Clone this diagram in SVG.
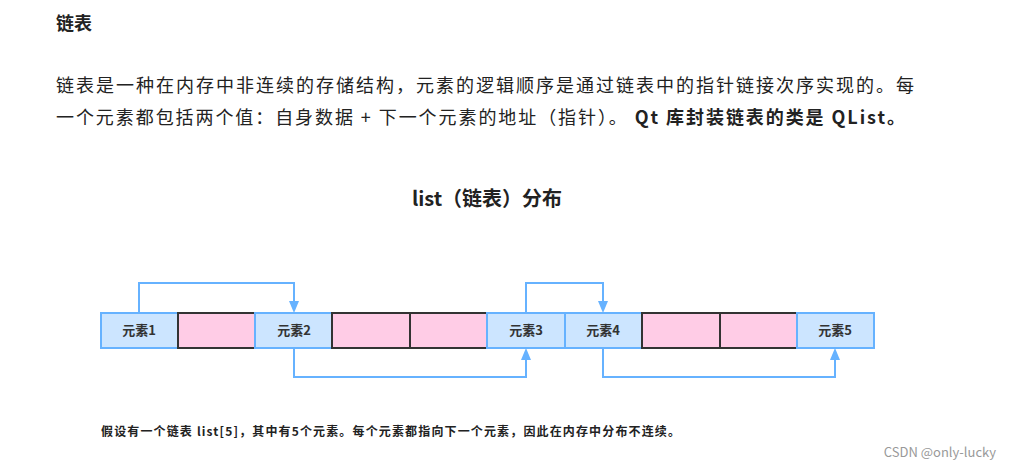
<svg xmlns="http://www.w3.org/2000/svg" width="1011" height="469" viewBox="0 0 1011 469">
<style>
text{font-family:"Noto Sans CJK SC","Liberation Sans",sans-serif;fill:#222}
.b{fill:#cce5ff;stroke:#66b2ff;stroke-width:2}
.p{fill:#ffcce6;stroke:#333;stroke-width:2}
.l{font-size:13px;font-weight:bold;fill:#333;text-anchor:middle}
.c{fill:none;stroke:#66b2ff;stroke-width:2}
</style>
<rect width="1011" height="469" fill="#fff"/>
<text x="56" y="30" font-size="18" font-weight="bold">链表</text>
<text x="56" y="92" font-size="18" textLength="858" lengthAdjust="spacing">链表是一种在内存中非连续的存储结构，元素的逻辑顺序是通过链表中的指针链接次序实现的。每</text>
<text x="56" y="124" font-size="18" textLength="849" lengthAdjust="spacing">一个元素都包括两个值：自身数据 + 下一个元素的地址（指针）。 <tspan font-weight="bold">Qt 库封装链表的类是 QList。</tspan></text>
<text x="487" y="206" font-size="20" font-weight="bold" text-anchor="middle">list（链表）分布</text>
<g id="n1"><rect class="b" x="101" y="313" width="77" height="35"/><text class="l" x="139" y="335">元素1</text></g>
<g id="p1"><rect class="p" x="178" y="313" width="77" height="35"/></g>
<g id="n2"><rect class="b" x="255" y="313" width="77" height="35"/><text class="l" x="294" y="335">元素2</text></g>
<g id="p2"><rect class="p" x="332" y="313" width="78" height="35"/></g>
<g id="p3"><rect class="p" x="410" y="313" width="77" height="35"/></g>
<g id="n3"><rect class="b" x="487" y="313" width="78" height="35"/><text class="l" x="526" y="335">元素3</text></g>
<g id="n4"><rect class="b" x="565" y="313" width="77" height="35"/><text class="l" x="603" y="335">元素4</text></g>
<g id="p4"><rect class="p" x="642" y="313" width="78" height="35"/></g>
<g id="p5"><rect class="p" x="720" y="313" width="77" height="35"/></g>
<g id="n5"><rect class="b" x="797" y="313" width="77" height="35"/><text class="l" x="835" y="335">元素5</text></g>
<g id="connectors">
<path class="c" d="M139,313 V283 H294 V302"/>
<path d="M289,301 L299,301 L294,313 Z" fill="#66b2ff"/>
<path class="c" d="M294,348 V377 H526 V359"/>
<path d="M521,360 L531,360 L526,348 Z" fill="#66b2ff"/>
<path class="c" d="M526,313 V283 H603 V302"/>
<path d="M598,301 L608,301 L603,313 Z" fill="#66b2ff"/>
<path class="c" d="M603,348 V377 H835 V359"/>
<path d="M830,360 L840,360 L835,348 Z" fill="#66b2ff"/>
</g>
<text x="101" y="436" font-size="12" font-weight="bold" fill="#333" textLength="579" lengthAdjust="spacing">假设有一个链表 list[5]，其中有5个元素。每个元素都指向下一个元素，因此在内存中分布不连续。</text>
<text x="996" y="457" font-size="13" text-anchor="end" style="fill:#999">CSDN @only-lucky</text>
</svg>
